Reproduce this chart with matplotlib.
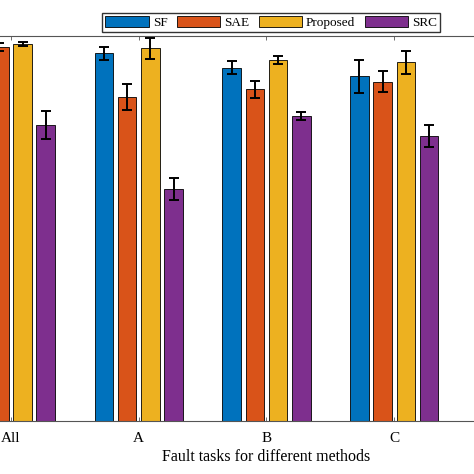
import numpy as np
import matplotlib
matplotlib.use("Agg")
import matplotlib.pyplot as plt

plt.rcParams["font.family"] = ["Liberation Serif", "DejaVu Serif"]

tasks = ["All", "A", "B", "C"]
methods = ["SF", "SAE", "Proposed", "SRC"]
colors = ["#0072BD", "#D95319", "#EDB120", "#7E2F8E"]

# accuracy (%) per method, one value per task
sf = [97.4, 95.5, 91.8, 89.5]
sae = [97.1, 84.1, 86.2, 88.1]
proposed = [97.9, 96.8, 93.8, 93.2]
src = [76.9, 60.3, 79.3, 74.1]

sf_err = [1.0, 1.7, 1.7, 4.3]
sae_err = [1.0, 3.4, 2.2, 2.7]
proposed_err = [0.45, 2.7, 1.0, 3.0]
src_err = [3.6, 2.9, 1.0, 2.9]

values = [sf, sae, proposed, src]
errors = [sf_err, sae_err, proposed_err, src_err]

fig = plt.figure(figsize=(4.74, 4.74), dpi=100)
# the reference is a crop: axes run past the left and right edges
ax = fig.add_axes([-0.1118, 0.1118, 1.348, 0.8122])

x = np.arange(1, len(tasks) + 1)
group_width = 0.727
step = group_width / len(methods)
bar_w = step * 0.8

for i, (vals, errs) in enumerate(zip(values, errors)):
    offset = (i - (len(methods) - 1) / 2) * step
    ax.bar(x + offset, vals, width=bar_w, color=colors[i], edgecolor="black",
           linewidth=0.6, label=methods[i], zorder=2)
    ax.errorbar(x + offset, vals, yerr=errs, fmt="none", ecolor="black",
                elinewidth=1.4, capsize=3.5, capthick=1.4, zorder=3)

ax.set_xlim(0.5, 5.5)
ax.set_ylim(0, 100)
ax.set_xticks(x)
ax.set_xticklabels(tasks, fontsize=11)
ax.set_yticks([])
ax.tick_params(axis="x", direction="in", top=True, length=3, width=0.6,
               color="#555555", pad=8)
for s in ax.spines.values():
    s.set_color("#555555")
    s.set_linewidth(0.8)
ax.set_xlabel("Fault tasks for different methods", fontsize=11.5, labelpad=3)

fig.legend(loc="center", bbox_to_anchor=(0.572, 0.9525), ncol=4,
           fontsize=9.5, frameon=True, fancybox=False, edgecolor="#333333",
           handlelength=3.3, handleheight=0.85, handletextpad=0.3,
           columnspacing=0.7, borderpad=0.25, framealpha=1)

fig.savefig("out.png", dpi=100)
